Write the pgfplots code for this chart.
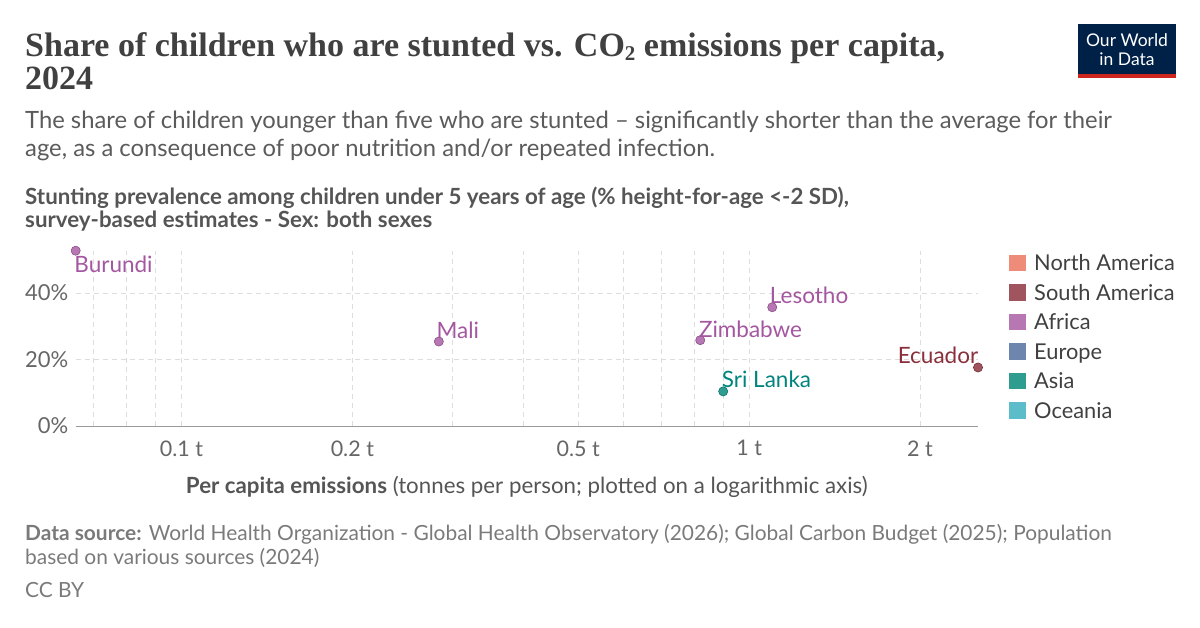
\documentclass[border=0pt]{standalone}
\usepackage{fontspec}
\setmainfont{Lato}
\newfontfamily\titlefont{Liberation Serif}
\usepackage{pgfplots}
\pgfplotsset{compat=1.18}

\definecolor{owidtitle}{HTML}{404040}
\definecolor{owidsub}{HTML}{5B5B5B}
\definecolor{owidaxis}{HTML}{555555}
\definecolor{owidtick}{HTML}{666666}
\definecolor{owidfoot}{HTML}{7A7A7A}
\definecolor{owidgrid}{HTML}{DDDDDD}
\definecolor{owidnavy}{HTML}{002147}
\definecolor{owidred}{HTML}{CE261E}
\definecolor{cNA}{HTML}{EE8B79}
\definecolor{cSA}{HTML}{A0555E}
\definecolor{cAF}{HTML}{B677B2}
\definecolor{cEU}{HTML}{6E86AE}
\definecolor{cAS}{HTML}{2E9C8F}
\definecolor{cOC}{HTML}{5DBCC9}
\definecolor{tSA}{HTML}{8A2F3C}
\definecolor{tAF}{HTML}{A457A0}
\definecolor{tAS}{HTML}{00847E}

\newcommand{\subtwo}{\raisebox{-0.3ex}{\fontsize{21}{22}\selectfont 2}}

\begin{document}
\begin{tikzpicture}
\path[use as bounding box] (0pt,0pt) rectangle (1200pt,-627pt);

% Title and subtitle
\node[anchor=base west,inner sep=0,text=owidtitle] at (25pt,-56pt)
  {\titlefont\bfseries\fontsize{34}{40}\selectfont Share of children who are stunted vs. CO\subtwo{} emissions per capita,};
\node[anchor=base west,inner sep=0,text=owidtitle] at (25pt,-89pt)
  {\titlefont\bfseries\fontsize{34}{40}\selectfont 2024};
\node[anchor=base west,inner sep=0,text=owidsub] at (25pt,-128pt)
  {\fontsize{23.8}{28}\selectfont The share of children younger than five who are stunted – significantly shorter than the average for their};
\node[anchor=base west,inner sep=0,text=owidsub] at (25pt,-156pt)
  {\fontsize{23.8}{28}\selectfont age, as a consequence of poor nutrition and/or repeated infection.};

% Logo
\fill[owidnavy] (1078pt,-24pt) rectangle (1176pt,-78pt);
\fill[owidred] (1078pt,-74pt) rectangle (1176pt,-78pt);
\node[text=white,inner sep=0,anchor=base] at (1127pt,-46pt)
  {\fontsize{17.5}{19}\selectfont Our World};
\node[text=white,inner sep=0,anchor=base] at (1127pt,-65pt)
  {\fontsize{17.5}{19}\selectfont in Data};

% Y-axis title
\node[anchor=base west,inner sep=0,text=owidaxis] at (25pt,-204pt)
  {\fontsize{22.3}{24}\selectfont\bfseries Stunting prevalence among children under 5 years of age (\% height-for-age <-2 SD),};
\node[anchor=base west,inner sep=0,text=owidaxis] at (25pt,-227pt)
  {\fontsize{22.3}{24}\selectfont\bfseries survey-based estimates - Sex: both sexes};

\begin{axis}[
  at={(75.7pt,-426pt)}, anchor=south west,
  scale only axis, width=902.3pt, height=175.3pt,
  xmode=log, log basis x=10,
  xmin=0.0651, xmax=2.53, ymin=0, ymax=52.7,
  clip=false,
  axis line style={draw=none},
  xtick={0.1,0.2,0.5,1,2},
  xticklabels={0.1 t,0.2 t,0.5 t,1 t,2 t},
  minor xtick={0.07,0.08,0.09,0.3,0.4,0.6,0.7,0.8,0.9},
  ytick={0,20,40},
  yticklabels={0\%,20\%,40\%},
  major tick length=0pt, minor tick length=0pt,
  xmajorgrids, xminorgrids, ymajorgrids,
  grid style={draw=owidgrid, dash pattern=on 5pt off 4pt, line width=0.8pt},
  minor grid style={draw=owidgrid, dash pattern=on 5pt off 4pt, line width=0.8pt},
  xticklabel style={text=owidtick, font=\fontsize{21.5}{23}\selectfont, yshift=-11pt},
  yticklabel style={text=owidtick, font=\fontsize{22}{23}\selectfont, xshift=-4pt},
  /pgf/number format/assume math mode=true,
  xlabel={\textbf{Per capita emissions} (tonnes per person; plotted on a logarithmic axis)},
  xlabel style={text=owidaxis, font=\fontsize{22.3}{24}\selectfont, yshift=-13pt},
  every axis plot/.append style={only marks, mark=*, mark size=4.6pt,
    nodes near coords style={font=\fontsize{22.5}{24}\selectfont, inner sep=1.5pt}},
]
% horizontal baseline of the plot area
\draw[draw=gray!80, line width=1pt] (rel axis cs:0,0) -- (rel axis cs:1,0);

% Africa
\addplot[mark options={fill=cAF, draw=tAF!80!black, line width=0.5pt},
  nodes near coords={Burundi},
  nodes near coords style={text=tAF, anchor=north west, xshift=-3pt, yshift=-3.5pt}]
  coordinates {(0.0651,52.7)};
\addplot[mark options={fill=cAF, draw=tAF!80!black, line width=0.5pt},
  nodes near coords={Mali},
  nodes near coords style={text=tAF, anchor=south west, xshift=-4pt, yshift=1pt}]
  coordinates {(0.284,25.4)};
\addplot[mark options={fill=cAF, draw=tAF!80!black, line width=0.5pt},
  nodes near coords={Zimbabwe},
  nodes near coords style={text=tAF, anchor=south west, xshift=-3pt, yshift=1pt}]
  coordinates {(0.820,25.8)};
\addplot[mark options={fill=cAF, draw=tAF!80!black, line width=0.5pt},
  nodes near coords={Lesotho},
  nodes near coords style={text=tAF, anchor=south west, xshift=-4pt, yshift=2pt}]
  coordinates {(1.098,35.7)};
% Asia
\addplot[mark options={fill=cAS, draw=tAS!80!black, line width=0.5pt},
  nodes near coords={Sri Lanka},
  nodes near coords style={text=tAS, anchor=south west, xshift=-3pt, yshift=1.5pt}]
  coordinates {(0.900,10.4)};
% South America
\addplot[mark options={fill=cSA, draw=tSA!80!black, line width=0.5pt},
  nodes near coords={Ecuador},
  nodes near coords style={text=tSA, anchor=south east, xshift=2pt, yshift=2pt}]
  coordinates {(2.53,17.6)};
\end{axis}

% Legend
\foreach \c/\t [count=\i from 0] in {cNA/North America, cSA/South America, cAF/Africa, cEU/Europe, cAS/Asia, cOC/Oceania} {
  \fill[\c] (1009pt,{(-254.5-29.5*\i)*1pt}) rectangle (1025.5pt,{(-271-29.5*\i)*1pt});
  \node[anchor=base west,inner sep=0,text=black!75] at (1034pt,{(-270.5-29.5*\i)*1pt})
    {\fontsize{21.8}{24}\selectfont \t};
}

% Footer
\node[anchor=base west,inner sep=0,text=owidfoot] at (25pt,-540pt)
  {\fontsize{20.9}{24}\selectfont\textbf{Data source:} World Health Organization - Global Health Observatory (2026); Global Carbon Budget (2025); Population};
\node[anchor=base west,inner sep=0,text=owidfoot] at (25pt,-564pt)
  {\fontsize{20.9}{24}\selectfont based on various sources (2024)};
\node[anchor=base west,inner sep=0,text=owidfoot] at (25pt,-597pt)
  {\fontsize{20.9}{24}\selectfont CC BY};
\end{tikzpicture}
\end{document}
